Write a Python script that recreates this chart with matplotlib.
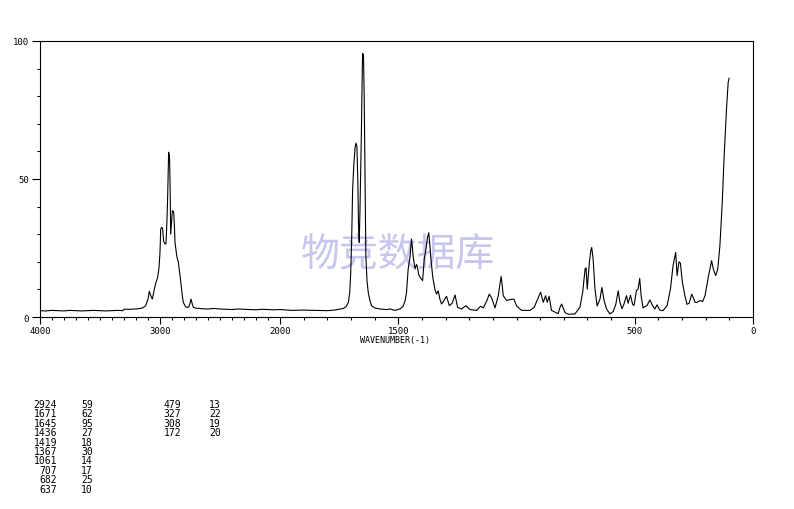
import numpy as np
import matplotlib
matplotlib.use("Agg")
import matplotlib.pyplot as plt
from matplotlib.ticker import FixedLocator

# ---------------- data ----------------
wavenumber = [
    4000, 3950, 3900, 3850, 3800, 3750, 3700, 3650, 3600, 3550, 3500, 3450, 3400, 3350, 3310,
    3300, 3250, 3200, 3150, 3120, 3100, 3089, 3075, 3064, 3045, 3033, 3019, 3008, 3000, 2994,
    2985, 2978, 2970, 2960, 2950, 2942, 2936, 2931, 2928, 2924, 2920, 2915, 2911, 2904, 2897,
    2890, 2886, 2880, 2875, 2860, 2847, 2828, 2815, 2806, 2790, 2778, 2760, 2750, 2742, 2733,
    2722, 2700, 2650, 2600, 2550, 2500, 2450, 2400, 2350, 2300, 2250, 2200, 2150, 2100, 2050,
    2000, 1950, 1900, 1850, 1800, 1770, 1750, 1732, 1720, 1711, 1705, 1701, 1697, 1693, 1688,
    1683, 1679, 1675, 1671, 1668, 1665, 1662, 1659, 1656, 1654, 1651, 1647, 1644, 1642, 1639,
    1637, 1632, 1627, 1620, 1613, 1600, 1577, 1550, 1535, 1514, 1493, 1480, 1471, 1465, 1458,
    1450, 1444, 1440, 1437, 1432, 1429, 1423, 1420, 1414, 1408, 1397, 1390, 1383, 1376, 1371,
    1366, 1363, 1359, 1354, 1345, 1338, 1331, 1324, 1317, 1310, 1296, 1284, 1272, 1260, 1249,
    1232, 1214, 1197, 1169, 1152, 1140, 1125, 1115, 1105, 1091, 1077, 1070, 1065, 1061, 1056,
    1042, 1028, 1011, 999, 978, 943, 925, 915, 898, 887, 877, 870, 862, 852, 824,
    816, 809, 795, 781, 753, 732, 720, 710, 706, 701, 692, 686, 682, 676, 668,
    659, 647, 639, 629, 619, 605, 591, 580, 570, 563, 554, 546, 535, 528, 518,
    509, 503, 493, 486, 479, 473, 465, 448, 436, 425, 415, 406, 394, 380, 363,
    349, 338, 327, 321, 313, 307, 299, 288, 279, 270, 259, 250, 245, 236, 224,
    213, 203, 189, 175, 168, 158, 149, 140, 130, 122, 112, 105, 101,
]
intensity = [
    2.3, 2.2, 2.4, 2.3, 2.2, 2.4, 2.3, 2.2, 2.3, 2.4, 2.3, 2.2, 2.3, 2.4, 2.3,
    2.8, 2.8, 2.9, 3.2, 4.0, 6.5, 9.3, 7.5, 6.5, 10.5, 12.6, 14.4, 18.0, 23.5, 31.9,
    32.5, 32.0, 27.5, 26.5, 26.5, 35.0, 44.0, 55.0, 59.7, 59.0, 57.0, 45.0, 30.0, 34.0, 38.5,
    38.3, 38.0, 33.0, 27.0, 22.0, 19.8, 13.2, 8.0, 5.3, 4.0, 3.5, 3.6, 5.0, 6.5, 5.0,
    3.5, 3.2, 3.0, 2.9, 3.1, 2.9, 2.8, 2.7, 2.9, 2.8, 2.7, 2.6, 2.8, 2.7, 2.6,
    2.7, 2.4, 2.5, 2.4, 2.3, 2.5, 2.8, 3.1, 3.8, 5.3, 9.0, 16.0, 28.0, 46.0, 55.0,
    61.0, 63.0, 62.0, 50.0, 33.0, 27.0, 38.0, 52.0, 66.0, 79.0, 95.5, 95.0, 80.0, 64.0, 40.0,
    22.0, 13.0, 9.0, 6.0, 4.1, 3.3, 2.9, 2.7, 2.9, 2.4, 2.9, 3.8, 5.9, 9.0, 17.4,
    22.0, 28.3, 25.0, 22.0, 19.0, 17.4, 19.0, 18.6, 15.5, 14.4, 13.2, 21.0, 24.6, 29.0, 30.5,
    25.8, 22.0, 18.6, 14.4, 10.0, 8.3, 9.5, 6.5, 4.7, 5.5, 7.5, 4.1, 5.0, 8.0, 3.5,
    2.9, 4.1, 2.7, 2.4, 3.9, 3.3, 6.0, 8.3, 6.9, 3.3, 7.7, 12.0, 14.7, 12.0, 7.7,
    6.0, 6.3, 6.5, 3.9, 2.4, 2.4, 3.5, 5.6, 9.0, 5.3, 7.7, 5.3, 7.5, 2.4, 1.2,
    3.5, 4.7, 1.6, 1.0, 1.1, 3.5, 9.0, 17.4, 17.8, 10.1, 19.6, 24.0, 25.2, 21.0, 10.0,
    4.0, 6.5, 10.7, 5.7, 2.9, 1.1, 2.0, 4.6, 9.5, 5.4, 3.0, 4.6, 7.7, 5.0, 7.9,
    4.6, 4.2, 9.5, 10.1, 14.0, 7.7, 3.3, 4.2, 6.2, 4.2, 2.9, 4.4, 2.5, 2.3, 4.2,
    10.2, 18.6, 23.4, 15.0, 20.0, 19.5, 12.8, 7.7, 4.6, 5.0, 8.3, 6.5, 5.3, 5.3, 6.0,
    5.6, 7.7, 14.5, 20.4, 17.4, 15.0, 17.4, 25.8, 41.5, 58.4, 75.4, 85.0, 86.5,
]

major_xticks = [4000, 3000, 2000, 1500, 500, 0]
major_xlabels = ["4000", "3000", "2000", "1500", "500", "0"]
major_yticks = [0, 50, 100]
major_ylabels = ["0", "50", "100"]

peak_wn_col1 = ["2924", "1671", "1645", "1436", "1419", "1367", "1061", "707", "682", "637"]
peak_int_col1 = ["59", "62", "95", "27", "18", "30", "14", "17", "25", "10"]
peak_wn_col2 = ["479", "327", "308", "172"]
peak_int_col2 = ["13", "22", "19", "20"]

x_label = "WAVENUMBER(-1)"
watermark = "物竞数据库"

# ---------------- split scale (4000-2000 compressed, 2000-0 expanded) ----------------
K_LO = 0.2365   # units per cm-1 below 2000
K_HI = 0.12     # units per cm-1 above 2000
BREAK = 2000 * K_LO


def fwd(x):
    x = np.asarray(x, dtype=float)
    return np.where(x <= 2000, x * K_LO, BREAK + (x - 2000) * K_HI)


def inv(u):
    u = np.asarray(u, dtype=float)
    return np.where(u <= BREAK, u / K_LO, 2000 + (u - BREAK) / K_HI)


W, H = 794, 510
fig = plt.figure(figsize=(W / 100, H / 100), dpi=100)
ax = fig.add_axes([40 / W, (H - 318) / H, (753 - 40) / W, (318 - 42) / H])

ax.set_xscale("function", functions=(fwd, inv))
ax.plot(wavenumber, intensity, color="black", lw=0.8, zorder=3)
ax.set_xlim(4000, 0)
ax.set_ylim(0, 100)

mono = "DejaVu Sans Mono"
ax.xaxis.set_major_locator(FixedLocator(major_xticks))
ax.set_xticklabels(major_xlabels, fontfamily=mono, fontsize=6.5)
ax.xaxis.set_minor_locator(FixedLocator(list(range(0, 4001, 100))))
ax.yaxis.set_major_locator(FixedLocator(major_yticks))
ax.set_yticklabels(major_ylabels, fontfamily=mono, fontsize=6.5)
ax.yaxis.set_minor_locator(FixedLocator(list(range(0, 101, 10))))

ax.tick_params(axis="x", which="major", direction="out", length=5, width=0.8, pad=1.2)
ax.tick_params(axis="x", which="minor", direction="out", length=2.2, width=0.8)
ax.tick_params(axis="y", which="major", direction="out", length=5.8, width=0.8, pad=2)
ax.tick_params(axis="y", which="minor", direction="out", length=2, width=0.8)
for s in ax.spines.values():
    s.set_linewidth(0.8)

fig.text(360 / W, 1 - 336.5 / H, x_label, fontfamily=mono, fontsize=6,
         ha="left", va="top")

# watermark (behind the curve)
ax.text(398 / W, 1 - 256 / H, watermark, transform=fig.transFigure,
        fontfamily=["Noto Sans CJK SC", "DejaVu Sans"],
        fontsize=28, color=(0.78, 0.78, 0.93), ha="center", va="center", zorder=1)

# peak table
row0 = 405
dy = 9.4
for i, (a, b) in enumerate(zip(peak_wn_col1, peak_int_col1)):
    y = 1 - (row0 + i * dy) / H
    fig.text(57 / W, y, a, fontfamily=mono, fontsize=7, ha="right", va="center")
    fig.text(93 / W, y, b, fontfamily=mono, fontsize=7, ha="right", va="center")
for i, (a, b) in enumerate(zip(peak_wn_col2, peak_int_col2)):
    y = 1 - (row0 + i * dy) / H
    fig.text(181 / W, y, a, fontfamily=mono, fontsize=7, ha="right", va="center")
    fig.text(221 / W, y, b, fontfamily=mono, fontsize=7, ha="right", va="center")

fig.savefig("out.png", dpi=100)
